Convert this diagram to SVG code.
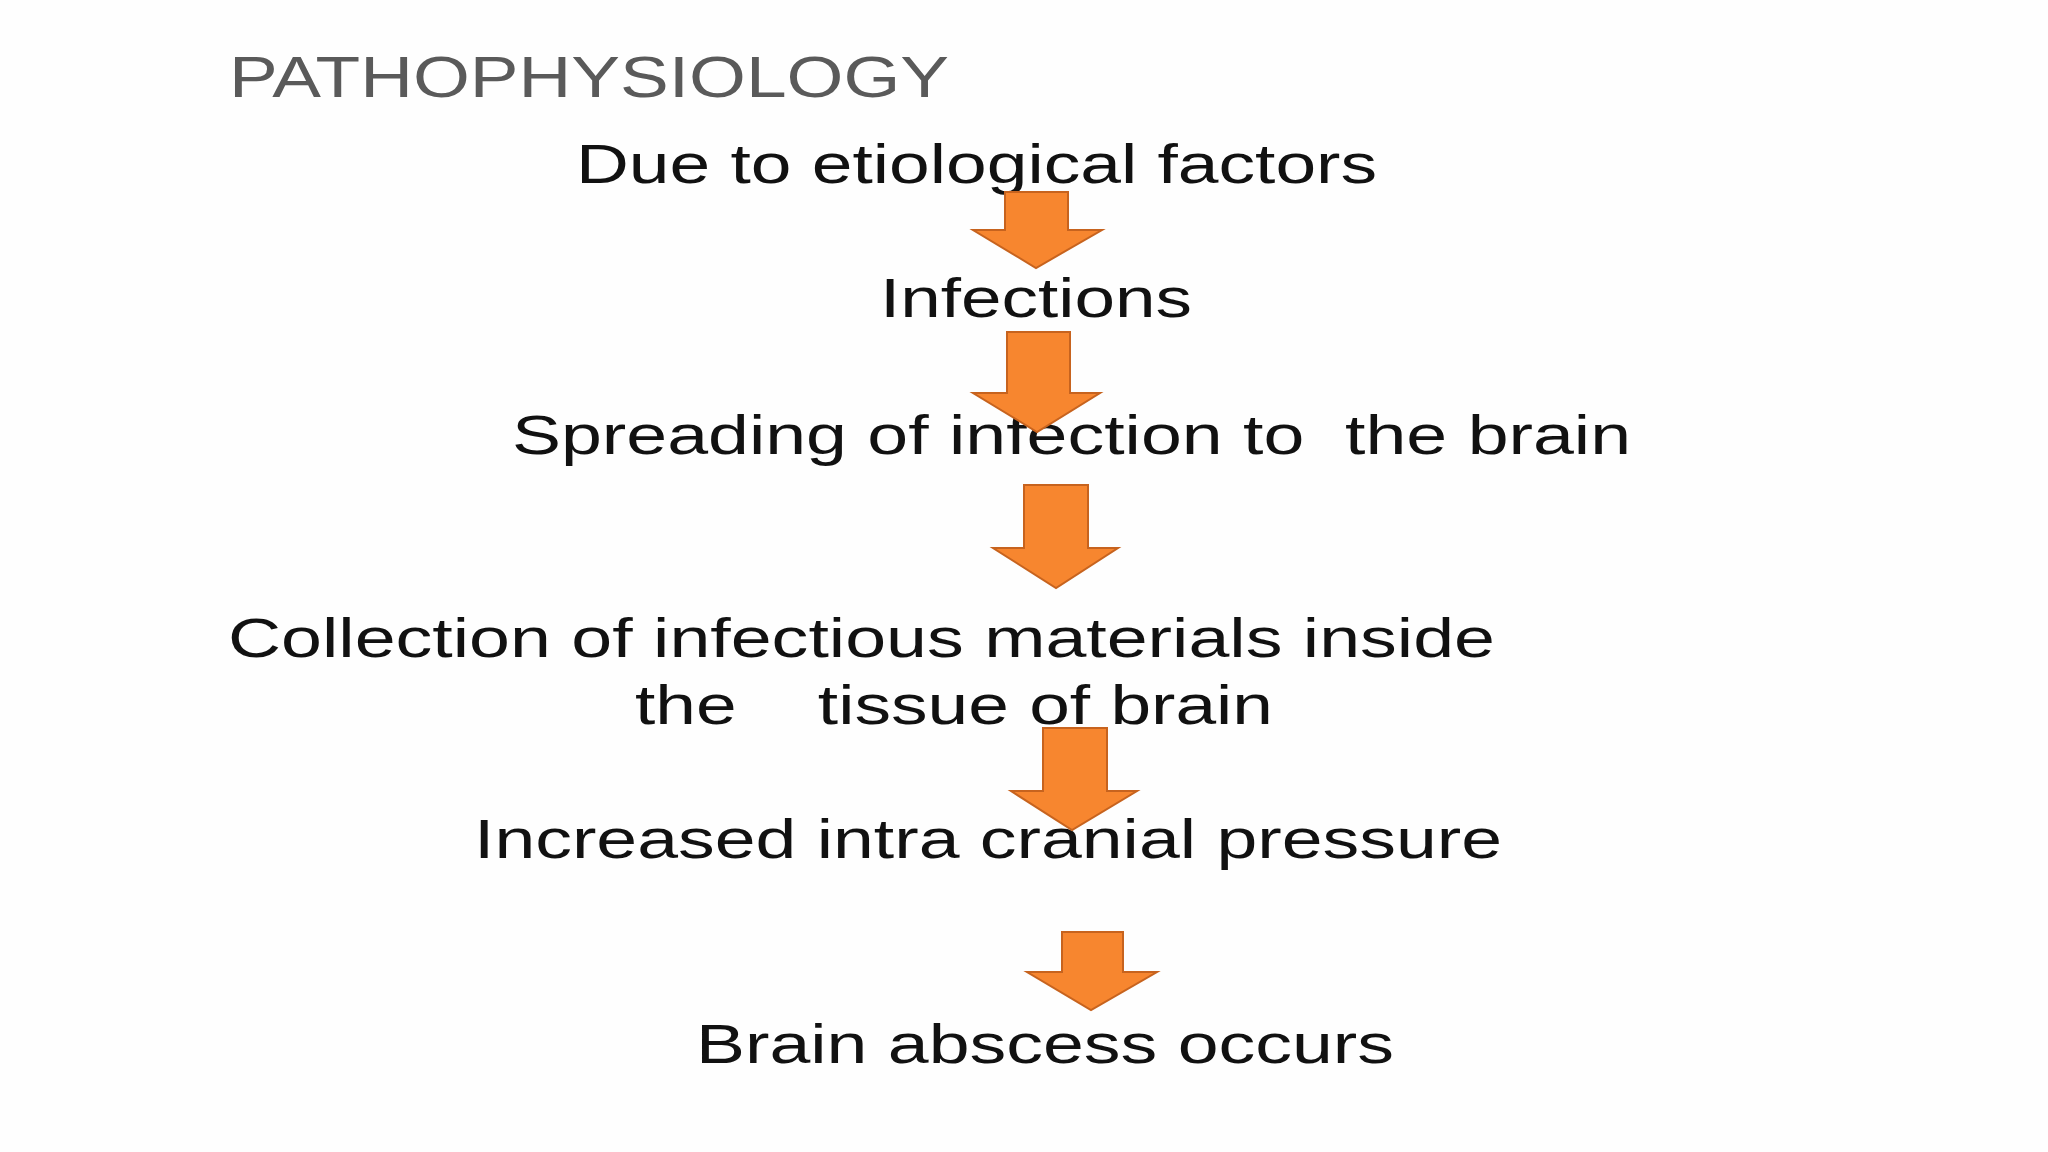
<svg xmlns="http://www.w3.org/2000/svg" width="2048" height="1152" viewBox="0 0 2048 1152">
<style>
.t{font-family:"Liberation Sans",Arial,sans-serif;font-size:55px;fill:#111;white-space:pre}
.title{font-family:"Liberation Sans",Arial,sans-serif;font-size:57px;fill:#5a5a5a}
.arr{fill:#F7862F;stroke:#C7631E;stroke-width:2;stroke-linejoin:miter}
</style>
<rect width="2048" height="1152" fill="#fefefe"/>
<g id="title"><text class="title" x="229" y="97" textLength="720" lengthAdjust="spacingAndGlyphs">PATHOPHYSIOLOGY</text></g>
<g id="n1"><text class="t" x="576" y="183" textLength="801" lengthAdjust="spacingAndGlyphs">Due to etiological factors</text></g>
<g id="n2"><text class="t" x="880" y="317" textLength="312" lengthAdjust="spacingAndGlyphs">Infections</text></g>
<g id="n3"><text class="t" x="512" y="454" textLength="1119" lengthAdjust="spacingAndGlyphs" xml:space="preserve">Spreading of infection to  the brain</text></g>
<g id="n4"><text class="t" x="228" y="657" textLength="1267" lengthAdjust="spacingAndGlyphs">Collection of infectious materials inside</text><text class="t" x="635" y="724" textLength="638" lengthAdjust="spacingAndGlyphs" xml:space="preserve">the    tissue of brain</text></g>
<g id="n5"><text class="t" x="474" y="858" textLength="1028" lengthAdjust="spacingAndGlyphs">Increased intra cranial pressure</text></g>
<g id="n6"><text class="t" x="696" y="1063" textLength="698" lengthAdjust="spacingAndGlyphs">Brain abscess occurs</text></g>
<g id="connectors">
<polygon class="arr" points="1005,192 1068,192 1068,230 1102,230 1036,268 973,230 1005,230"/>
<polygon class="arr" points="1007,332 1070,332 1070,393 1100,393 1037,432 973,393 1007,393"/>
<polygon class="arr" points="1024,485 1088,485 1088,548 1118,548 1056,588 993,548 1024,548"/>
<polygon class="arr" points="1043,728 1107,728 1107,791 1137,791 1072,830 1011,791 1043,791"/>
<polygon class="arr" points="1062,932 1123,932 1123,972 1157,972 1091,1010 1027,972 1062,972"/>
</g>
</svg>
